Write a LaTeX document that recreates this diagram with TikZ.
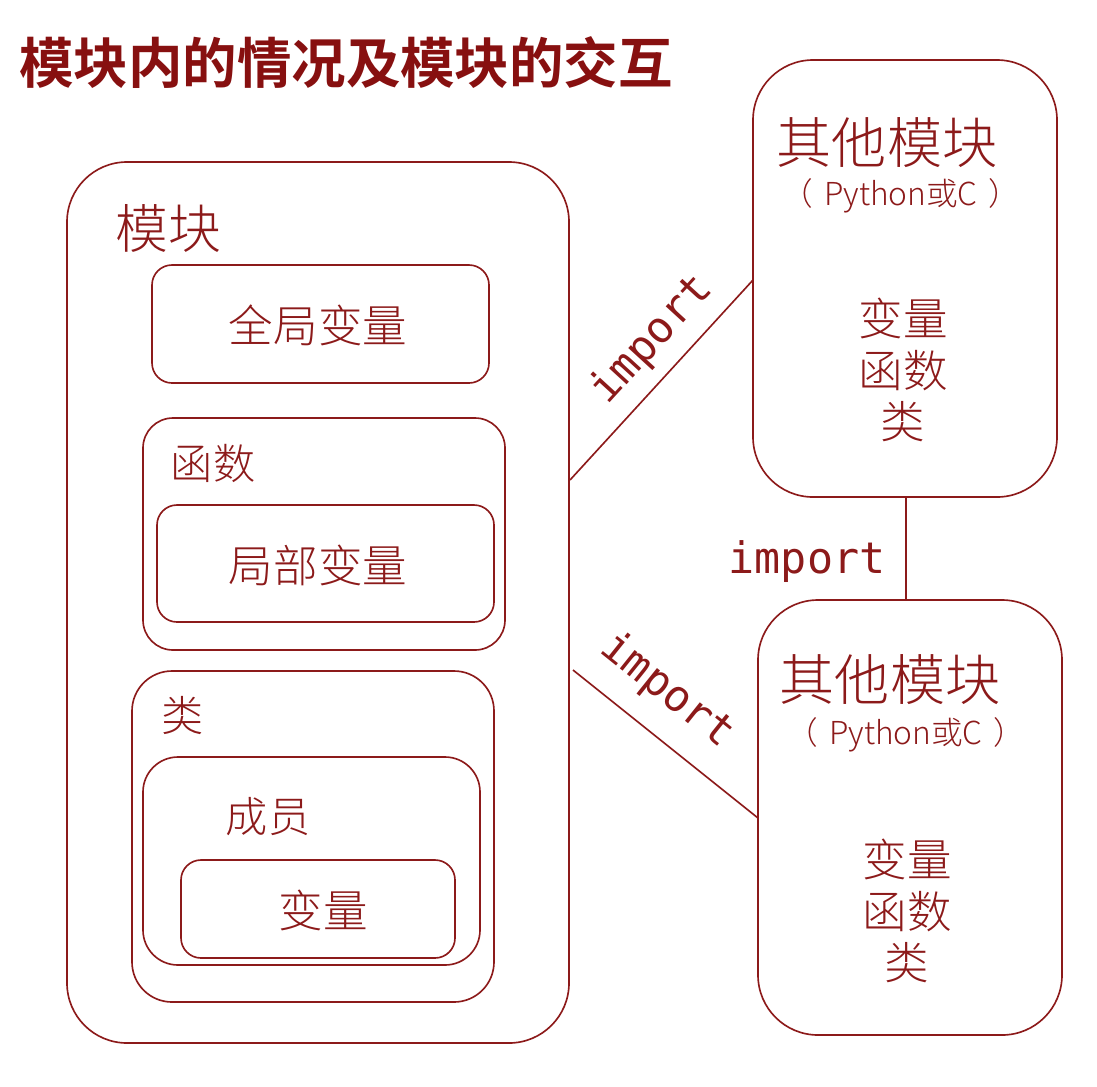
\documentclass[tikz,border=0pt]{standalone}
\usepackage{fontspec}
\newfontfamily\cjk[BoldFont={Noto Sans CJK SC Bold}]{Noto Sans CJK SC Light}
\newfontfamily\monof{DejaVu Sans Mono}
\definecolor{dred}{RGB}{140,26,26}
\definecolor{tred}{RGB}{135,16,16}
\newcommand\fs[1]{\fontsize{#1}{#1}\selectfont}
\newcommand\myrbox[6]{%
  \node[box, rounded corners=#6*0.03cm, minimum width={(#4-#2)*0.03cm},
        minimum height={(#5-#3)*0.03cm}] (#1) at ({(#2+#4)/2},{(#3+#5)/2}) {};}
\tikzset{
  box/.style={draw=dred, line width=1.4pt, inner sep=0pt},
  lbl/.style={text=dred, inner sep=0pt, font=\cjk},
  imp/.style={text=dred, inner sep=0pt, font=\monof\fs{37}},
  conn/.style={draw=dred, line width=1.4pt},
}
\begin{document}
\begin{tikzpicture}[x=0.03cm,y=-0.03cm]
\useasboundingbox (0,0) rectangle (1097,1086);
% title
\node[inner sep=0pt, text=tred, font=\cjk\bfseries\fs{46.5}] (title) at (346,63) {模块内的情况及模块的交互};
% main module
\myrbox{mod}{67}{162}{569}{1043}{60}
\node[lbl, font=\cjk\fs{45}] (modl) at (168,228) {模块};
\myrbox{glob}{152}{265}{489}{383}{20}
\node[lbl, font=\cjk\fs{38}] (globl) at (318,325) {全局变量};
\myrbox{func}{143}{418}{505}{650}{30}
\node[lbl, font=\cjk\fs{36}] (funcl) at (213,463) {函数};
\myrbox{loc}{157}{505}{494}{622}{20}
\node[lbl, font=\cjk\fs{38}] (locl) at (318,565) {局部变量};
\myrbox{cls}{132}{671}{494}{1002}{40}
\node[lbl, font=\cjk\fs{36}] (clsl) at (183,716) {类};
\myrbox{mem}{143}{757}{480}{965}{35}
\node[lbl, font=\cjk\fs{36}] (meml) at (268,817) {成员};
\myrbox{var}{181}{860}{455}{958}{20}
\node[lbl, font=\cjk\fs{38}] (varl) at (323,910) {变量};
% other module 1
\myrbox{oa}{753}{60}{1057}{497}{60}
\node[lbl, font=\cjk\fs{47}] (oat) at (887,143) {其他模块};
\node[lbl, font=\cjk\fs{27}] (oas) at (901,196) {（\hspace{0.35em}Python或C\hspace{0.35em}）};
\node[lbl, font=\cjk\fs{38}, align=center] (oab) at (903,370) {变量\\[6pt]函数\\[6pt]类};
% other module 2
\myrbox{ob}{758}{600}{1062}{1035}{60}
\node[lbl, font=\cjk\fs{47}] (obt) at (890,680) {其他模块};
\node[lbl, font=\cjk\fs{27}] (obs) at (906,735) {（\hspace{0.35em}Python或C\hspace{0.35em}）};
\node[lbl, font=\cjk\fs{38}, align=center] (obb) at (907,911) {变量\\[6pt]函数\\[6pt]类};
% connectors
\coordinate (c1a) at (570,480);
\coordinate (c1b) at (753,280);
\coordinate (c2a) at (573,670);
\coordinate (c2b) at (758,818);
\draw[conn] (c1a) -- (c1b);
\draw[conn] (c2a) -- (c2b);
\draw[conn] (oa.south -| 906,0) -- (ob.north -| 906,0);
\node[imp, rotate=47.5] (i1) at (652,340) {import};
\node[imp, rotate=-38.7] (i2) at (667,691) {import};
\node[imp] (i3) at (807,562) {import};
\end{tikzpicture}
\end{document}
